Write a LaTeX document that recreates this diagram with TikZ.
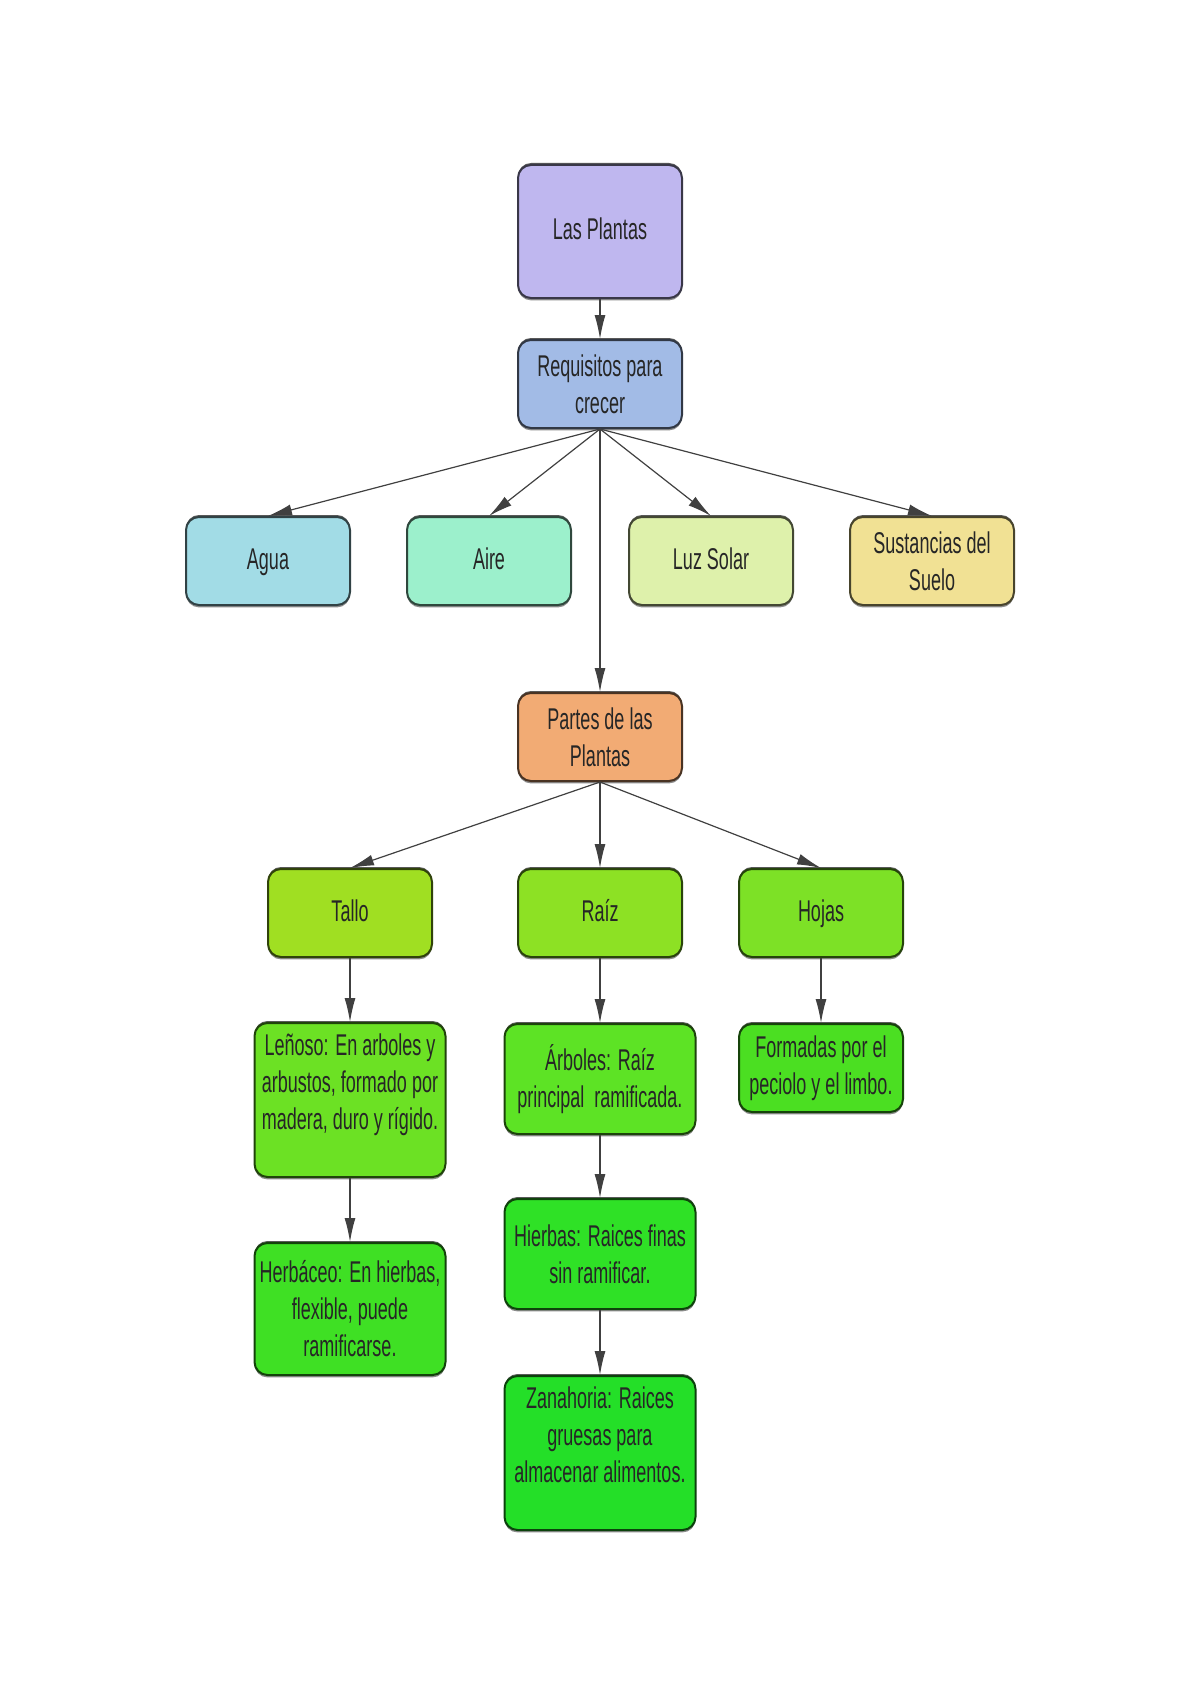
\documentclass[tikz,border=0pt]{standalone}
\usepackage{fontspec}
\setmainfont{Liberation Sans}[FakeStretch=0.6]
\usetikzlibrary{arrows.meta,shadows}

\definecolor{plantascolor}{HTML}{BFB7EF}
\definecolor{requisitoscolor}{HTML}{A2BBE6}
\definecolor{aguacolor}{HTML}{A2DCE6}
\definecolor{airecolor}{HTML}{9CF0CC}
\definecolor{luzcolor}{HTML}{DEF1AB}
\definecolor{suelocolor}{HTML}{F1E194}
\definecolor{partescolor}{HTML}{F2AB74}
\definecolor{tallocolor}{HTML}{A0DF22}
\definecolor{raizcolor}{HTML}{8DE124}
\definecolor{hojascolor}{HTML}{7DE126}
\definecolor{lenosocolor}{HTML}{6CE124}
\definecolor{arbolescolor}{HTML}{5DE325}
\definecolor{formadascolor}{HTML}{4BDF22}
\definecolor{herbaceocolor}{HTML}{3FE024}
\definecolor{hierbascolor}{HTML}{2FE126}
\definecolor{zanahoriacolor}{HTML}{24DF28}

\tikzset{
    box/.style={draw=#1!30!black, fill=#1, line width=1pt, rounded corners=6.5pt,
        minimum width=82pt, minimum height=44pt, inner sep=2pt, align=center,
        text=black!85, font=\fontsize{15}{18.5}\selectfont,
        general shadow={shadow yshift=1pt, fill=black!65},
        general shadow={shadow yshift=-1.2pt, fill=black!45}},
    single/.style={text height=11pt, text depth=3pt},
    wide/.style={minimum width=95.5pt},
    link/.style={-{Latex[length=12pt,width=5.5pt]}, draw=black!75, line width=0.6pt}
}

\begin{document}
\begin{tikzpicture}[x=0.5pt, y=-0.5pt]
        \useasboundingbox (0,0) rectangle (1200,1696);

        % top
        \node (plantas) at (600,231.5) [box=plantascolor, single, minimum height=66.5pt] {Las Plantas};
        \node (requisitos) at (600,384) [box=requisitoscolor] {Requisitos para\\crecer};

        % requisitos
        \node (agua) at (268,561) [box=aguacolor, single] {Agua};
        \node (aire) at (489,561) [box=airecolor, single] {Aire};
        \node (luz) at (711,561) [box=luzcolor, single] {Luz Solar};
        \node (suelo) at (932,561) [box=suelocolor] {Sustancias del\\Suelo};

        % partes
        \node (partes) at (600,737) [box=partescolor] {Partes de las\\Plantas};
        \node (tallo) at (350,913) [box=tallocolor, single] {Tallo};
        \node (raiz) at (600,913) [box=raizcolor, single] {Raíz};
        \node (hojas) at (821,913) [box=hojascolor, single] {Hojas};

        \node (lenoso) at (350,1100) [box=lenosocolor, wide, minimum height=77pt]
            {Leñoso: En arboles y\\arbustos, formado por\\madera, duro y rígido.\\ \mbox{}};
        \node (herbaceo) at (350,1309) [box=herbaceocolor, wide, minimum height=66pt]
            {Herbáceo: En hierbas,\\flexible, puede\\ramificarse.};
        \node (arboles) at (600,1079) [box=arbolescolor, wide, minimum height=55pt]
            {Árboles: Raíz\\principal\ \ ramificada.};
        \node (hierbas) at (600,1254) [box=hierbascolor, wide, minimum height=55pt]
            {Hierbas: Raices finas\\sin ramificar.};
        \node (zanahoria) at (600,1453) [box=zanahoriacolor, wide, minimum height=77pt]
            {Zanahoria: Raices\\gruesas para\\almacenar alimentos.\\ \mbox{}};
        \node (formadas) at (821,1068) [box=formadascolor, minimum height=44pt]
            {Formadas por el\\peciolo y el limbo.};

        % arrows
        \draw [link] (plantas) -- (requisitos);
        \foreach \n in {agua,aire,luz,suelo}
            \draw [link] (requisitos.south) -- (\n.north);
        \draw [link] (requisitos) -- (partes);
        \foreach \n in {tallo,raiz,hojas}
            \draw [link] (partes.south) -- (\n.north);
        \draw [link] (tallo) -- (lenoso);
        \draw [link] (lenoso) -- (herbaceo);
        \draw [link] (raiz) -- (arboles);
        \draw [link] (arboles) -- (hierbas);
        \draw [link] (hierbas) -- (zanahoria);
        \draw [link] (hojas) -- (formadas);
    \end{tikzpicture}
\end{document}
